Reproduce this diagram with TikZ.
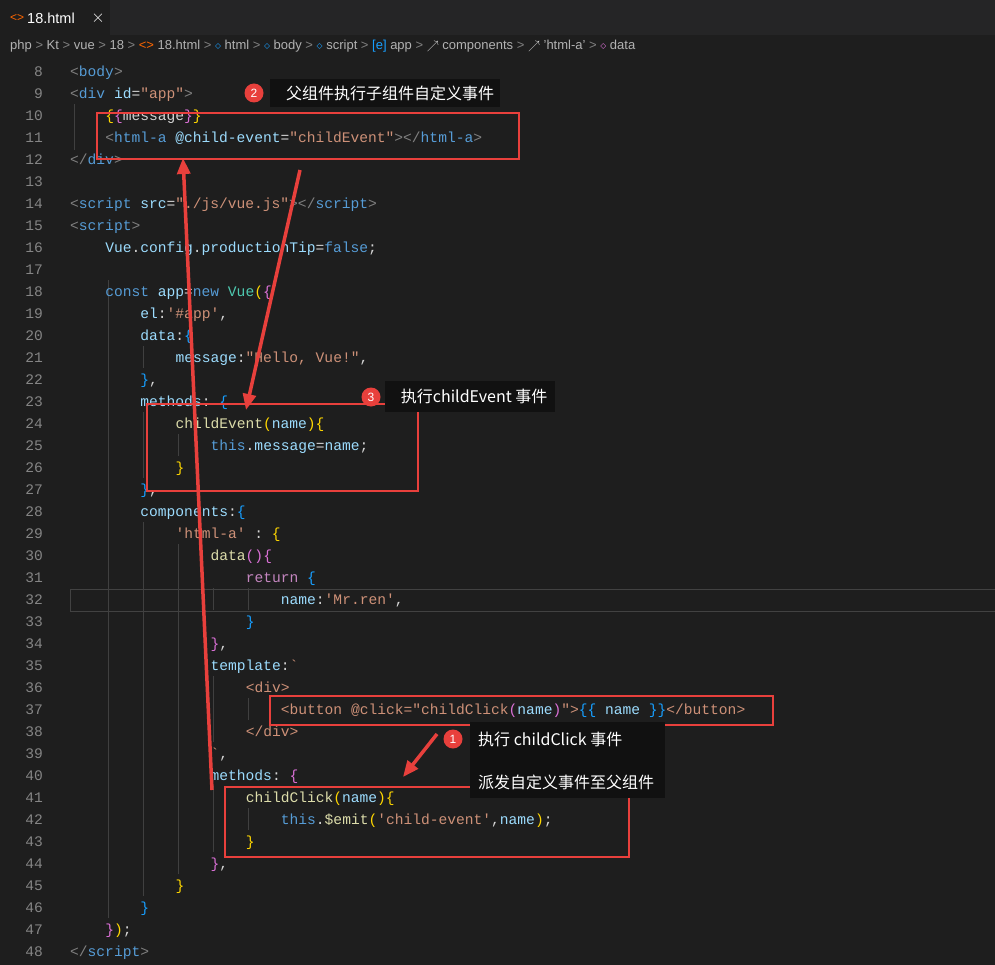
\documentclass[tikz,border=0pt]{standalone}
\usepackage{fontspec}
\setmonofont{Liberation Mono}
\setsansfont{Liberation Sans}
\newfontfamily\cjk{Noto Sans CJK SC}
\usetikzlibrary{arrows.meta}
\definecolor{bg}{HTML}{1E1E1E}
\definecolor{tabbg}{HTML}{252526}
\definecolor{ctag}{HTML}{569CD6}
\definecolor{cgr}{HTML}{808080}
\definecolor{cat}{HTML}{9CDCFE}
\definecolor{cst}{HTML}{CE9178}
\definecolor{cfn}{HTML}{DCDCAA}
\definecolor{cpl}{HTML}{D4D4D4}
\definecolor{cyb}{HTML}{FFD700}
\definecolor{cpb}{HTML}{DA70D6}
\definecolor{cbb}{HTML}{179FFF}
\definecolor{ckp}{HTML}{C586C0}
\definecolor{ccl}{HTML}{4EC9B0}
\definecolor{cln}{HTML}{858585}
\definecolor{cred}{HTML}{E8403C}
\definecolor{lblbg}{HTML}{111111}
\newcommand\tg[1]{\textcolor{ctag}{#1}}
\newcommand\gr[1]{\textcolor{cgr}{#1}}
\newcommand\at[1]{\textcolor{cat}{#1}}
\newcommand\st[1]{\textcolor{cst}{#1}}
\newcommand\fn[1]{\textcolor{cfn}{#1}}
\newcommand\pl[1]{\textcolor{cpl}{#1}}
\newcommand\yb[1]{\textcolor{cyb}{#1}}
\newcommand\pb[1]{\textcolor{cpb}{#1}}
\newcommand\bb[1]{\textcolor{cbb}{#1}}
\newcommand\kw[1]{\textcolor{ctag}{#1}}
\newcommand\kp[1]{\textcolor{ckp}{#1}}
\newcommand\cls[1]{\textcolor{ccl}{#1}}
\begin{document}
\begin{tikzpicture}[x=1pt,y=-1pt,
  code/.style={inner sep=0pt,anchor=base west,font=\ttfamily\fontsize{14.6}{16}\selectfont},
  lnum/.style={inner sep=0pt,anchor=base east,text=cln,font=\ttfamily\fontsize{14.6}{16}\selectfont},
  redbox/.style={draw=cred,line width=2.5pt},
  badge/.style={circle,fill=cred,text=white,inner sep=0pt,minimum size=19pt,font=\sffamily\fontsize{12}{12}\selectfont},
  lbl/.style={fill=lblbg,text=white,inner sep=0pt,anchor=north west,font=\cjk\fontsize{16}{18}\selectfont},
  rarrow/.style={draw=cred,line width=3.5pt,-{Triangle[length=16pt,width=13pt]}},
  guide/.style={draw=black!75!white,line width=0.6pt}]
\useasboundingbox (0,0) rectangle (995,965);
\fill[bg] (0,0) rectangle (995,965);
\fill[tabbg] (0,0) rectangle (995,35);
\fill[bg] (0,0) rectangle (110,35);
\node[inner sep=0,anchor=west,text=orange!80!red,font=\sffamily\fontsize{12}{12}\selectfont] (tabicon) at (10,18) {<>};
\node[inner sep=0,anchor=west,text=white,font=\sffamily\fontsize{14.5}{14}\selectfont] (tab) at (27,18) {18.html};
\node[inner sep=0,anchor=center,text=white,font=\sffamily\fontsize{18}{18}\selectfont] (tabx) at (98,18) {$\times$};
\node[inner sep=0,anchor=west,text=white!70!black,font=\sffamily\fontsize{13}{13}\selectfont] (crumb) at (10,46) {php \textcolor{cgr}{>} Kt \textcolor{cgr}{>} vue \textcolor{cgr}{>} 18 \textcolor{cgr}{>} \textcolor{orange!80!red}{<>} 18.html \textcolor{cgr}{>} \textcolor{cbb}{$\diamond$} html \textcolor{cgr}{>} \textcolor{cbb}{$\diamond$} body \textcolor{cgr}{>} \textcolor{cbb}{$\diamond$} script \textcolor{cgr}{>} \textcolor{cbb}{[e]} app \textcolor{cgr}{>} \textcolor{cpl}{$\nearrow$} components \textcolor{cgr}{>} \textcolor{cpl}{$\nearrow$} 'html-a' \textcolor{cgr}{>} \textcolor{cpb}{$\diamond$} data};
% current line
\draw[white!16!bg,line width=1pt] (70,589) rectangle (995,611);
% indent guides
\draw[guide] (74,104) -- (74,150);
\draw[guide] (108,280) -- (108,918);
\draw[guide] (143,346) -- (143,368) (143,412) -- (143,478) (143,522) -- (143,896);
\draw[guide] (178,434) -- (178,456) (178,544) -- (178,874);
\draw[guide] (213,588) -- (213,610) (213,676) -- (213,742) (213,786) -- (213,852);
\draw[guide] (248,588) -- (248,610) (248,698) -- (248,720) (248,808) -- (248,830);
\foreach \n/\ind/\t in {
 8/0/{\gr{<}\tg{body}\gr{>}},
 9/0/{\gr{<}\tg{div} \at{id}\pl{=}\st{"app"}\gr{>}},
 10/4/{\yb{\{}\pb{\{}\pl{message}\pb{\}}\yb{\}}},
 11/4/{\gr{<}\tg{html-a} \at{@child-event}\pl{=}\st{"childEvent"}\gr{></}\tg{html-a}\gr{>}},
 12/0/{\gr{</}\tg{div}\gr{>}},
 13/0/{},
 14/0/{\gr{<}\tg{script} \at{src}\pl{=}\st{"./js/vue.js"}\gr{></}\tg{script}\gr{>}},
 15/0/{\gr{<}\tg{script}\gr{>}},
 16/4/{\at{Vue}\pl{.}\at{config}\pl{.}\at{productionTip}\pl{=}\kw{false}\pl{;}},
 17/0/{},
 18/4/{\kw{const} \at{app}\pl{=}\kw{new} \cls{Vue}\yb{(}\pb{\{}},
 19/8/{\at{el}\pl{:}\st{'\#app'}\pl{,}},
 20/8/{\at{data}\pl{:}\bb{\{}},
 21/12/{\at{message}\pl{:}\st{"Hello, Vue!"}\pl{,}},
 22/8/{\bb{\}}\pl{,}},
 23/8/{\at{methods}\pl{: }\bb{\{}},
 24/12/{\fn{childEvent}\yb{(}\at{name}\yb{)}\yb{\{}},
 25/16/{\kw{this}\pl{.}\at{message}\pl{=}\at{name}\pl{;}},
 26/12/{\yb{\}}},
 27/8/{\bb{\}}\pl{,}},
 28/8/{\at{components}\pl{:}\bb{\{}},
 29/12/{\st{'html-a'} \pl{: }\yb{\{}},
 30/16/{\fn{data}\pb{()}\pb{\{}},
 31/20/{\kp{return} \bb{\{}},
 32/24/{\at{name}\pl{:}\st{'Mr.ren'}\pl{,}},
 33/20/{\bb{\}}},
 34/16/{\pb{\}}\pl{,}},
 35/16/{\at{template}\pl{:}\st{`}},
 36/20/{\st{<div>}},
 37/24/{\st{<button @click="childClick}\pb{(}\at{name}\pb{)}\st{">}\bb{\{\{} \at{name} \bb{\}\}}\st{</button>}},
 38/20/{\st{</div>}},
 39/16/{\st{`}\pl{,}},
 40/16/{\at{methods}\pl{: }\pb{\{}},
 41/20/{\fn{childClick}\yb{(}\at{name}\yb{)}\yb{\{}},
 42/24/{\kw{this}\pl{.}\fn{\$emit}\yb{(}\st{'child-event'}\pl{,}\at{name}\yb{)}\pl{;}},
 43/20/{\yb{\}}},
 44/16/{\pb{\}}\pl{,}},
 45/12/{\yb{\}}},
 46/8/{\bb{\}}},
 47/4/{\pb{\}}\yb{)}\pl{;}},
 48/0/{\gr{</}\tg{script}\gr{>}}}{
  \pgfmathsetmacro\yy{72+(\n-8)*21.975+5}
  \pgfmathsetmacro\xx{70+\ind*8.78}
  \node[lnum] (N\n) at (43,\yy) {\n};
  \node[code] (L\n) at (\xx,\yy) {\t};
}
% red boxes
\draw[redbox] (97,113) rectangle (519,159);
\draw[redbox] (147,404) rectangle (418,491);
\draw[redbox] (270,696) rectangle (773,725);
\draw[redbox] (225,787) rectangle (629,857);
% labels
\node[lbl,minimum width=230pt,minimum height=28pt] (T2) at (270,79) {\hspace{10pt}父组件执行子组件自定义事件\hspace{6pt}};
\node[badge] (B2) at (254,93) {2};
\node[lbl,minimum width=170pt,minimum height=31pt] (T3) at (385,381) {\hspace{8pt}执行childEvent 事件\hspace{8pt}};
\node[badge] (B3) at (371,397) {3};
\fill[lblbg] (470,722) rectangle (665,798);
\node[inner sep=0,anchor=west,text=white,font=\cjk\fontsize{16}{18}\selectfont] (T1a) at (478,739) {执行 childClick 事件};
\node[inner sep=0,anchor=west,text=white,font=\cjk\fontsize{16}{18}\selectfont] (T1b) at (478,782) {派发自定义事件至父组件};
\node[badge] (B1) at (453,739) {1};
% arrows
\coordinate (a1s) at (437,734);
\coordinate (a1e) at (403,777);
\coordinate (a2s) at (212,790);
\coordinate (a2e) at (183,158);
\coordinate (a3s) at (300,170);
\coordinate (a3e) at (246,410);
\draw[rarrow] (a1s) -- (a1e);
\draw[rarrow] (a2s) -- (a2e);
\draw[rarrow] (a3s) -- (a3e);
\end{tikzpicture}
\end{document}
